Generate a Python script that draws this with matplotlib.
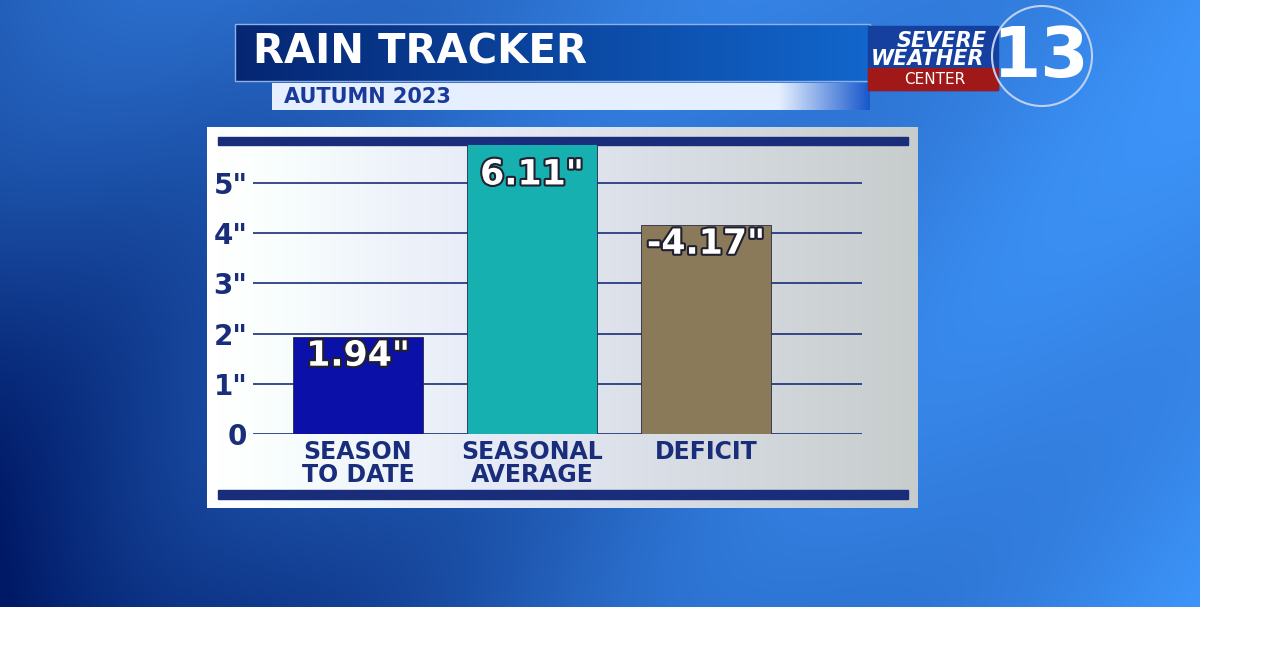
import numpy as np
import matplotlib.pyplot as plt
import matplotlib.patheffects as pe
from matplotlib.patches import Rectangle

categories = ["SEASON\nTO DATE", "SEASONAL\nAVERAGE", "DEFICIT"]
values = [1.94, 6.11, 4.17]
value_labels = ['1.94"', '6.11"', '-4.17"']
ytick_vals = [0, 1, 2, 3, 4, 5]
ytick_labels = ["0", '1"', '2"', '3"', '4"', '5"']
title = "RAIN TRACKER"
subtitle = "AUTUMN 2023"

W, H = 1280, 672
fig = plt.figure(figsize=(12.8, 6.72), dpi=100)
fig.patch.set_facecolor("white")

# background in pixel coordinates
bg = fig.add_axes([0, 0, 1, 1])
bg.set_xlim(0, W)
bg.set_ylim(H, 0)
bg.axis("off")
yy, xx = np.mgrid[0:607, 0:1200]
g = np.clip(0.55 + 0.35 * (xx / 1200) + 0.06 * np.sin((xx + yy) / 90.0) - 0.6 * (yy / 607) * (1 - xx / 1200) ** 2, 0, 1)
img = np.zeros((607, 1200, 3))
img[..., 0] = 0.0 + 0.25 * g
img[..., 1] = 0.1 + 0.5 * g
img[..., 2] = 0.4 + 0.6 * g
bg.imshow(img.clip(0, 1), extent=[0, 1200, 607, 0], zorder=0)

# title bars
tg = np.linspace(0, 1, 200).reshape(1, -1)
bg.imshow(np.dstack([0.02 + 0.05 * tg, 0.15 + 0.25 * tg, 0.45 + 0.35 * tg]), extent=[235, 870, 81, 24], aspect="auto", zorder=2)
bg.add_patch(Rectangle((235, 24), 635, 57, fill=False, ec="#8fb0e8", lw=1, zorder=3))
bg.text(253, 52, title, color="white", fontsize=29, fontweight="bold", va="center", zorder=4)
sg = np.clip(1 - (np.linspace(0, 1, 200) - 0.85) / 0.15, 0, 1).reshape(1, -1)
bg.imshow(np.dstack([0.9 * sg + 0.1 * (1 - sg), 0.94 * sg + 0.35 * (1 - sg), 1 * sg + 0.8 * (1 - sg)]), extent=[272, 870, 110, 83], aspect="auto", zorder=2)
bg.text(284, 97, subtitle, color="#1a3a9a", fontsize=15, fontweight="bold", va="center", zorder=4)

# logo
bg.add_patch(Rectangle((868, 26), 130, 64, color="#1540a0", zorder=3))
bg.add_patch(Rectangle((868, 68), 130, 22, color="#a01818", zorder=4))
bg.text(942, 41, "SEVERE", color="white", fontsize=15, fontweight="bold", style="italic", ha="center", va="center", zorder=5)
bg.text(928, 59, "WEATHER", color="white", fontsize=15, fontweight="bold", style="italic", ha="center", va="center", zorder=5)
bg.text(935, 80, "CENTER", color="white", fontsize=11, ha="center", va="center", zorder=5)
bg.add_patch(plt.Circle((1042, 56), 50, fill=False, ec="#c0d0f0", lw=1.5, zorder=4))
bg.text(1040, 58, "13", color="white", fontsize=50, fontweight="bold", ha="center", va="center", zorder=5)

# panel
pg = np.linspace(0, 1, 300).reshape(1, -1)
pc = np.interp(pg, [0, 0.4, 1], [1.0, 0.9, 0.78])
pb = np.interp(pg, [0, 0.4, 1], [1.0, 0.97, 0.8])
bg.imshow(np.dstack([pc, pc + 0.02, pb]).clip(0, 1), extent=[207, 918, 508, 127], aspect="auto", zorder=2)
bg.add_patch(Rectangle((218, 137), 690, 8, color="#1a2d7a", zorder=3))
bg.add_patch(Rectangle((218, 490), 690, 9, color="#1a2d7a", zorder=3))

# chart axes
ax = fig.add_axes([253 / W, 238 / H, 609 / W, 289 / H])
ax.patch.set_alpha(0)
ax.set_ylim(0, 289 / 50.2)
ax.set_xlim(-0.603, 2.897)
for y in ytick_vals:
    ax.axhline(y, color="#1a2d7a", lw=1.2, zorder=1)
bar_colors = ["#0a10a8", "#16b0b0", "#8a7a5a"]
x = np.arange(len(categories))
ax.bar(x, values, width=0.747, color=bar_colors, edgecolor="#2a2a40", lw=0.6, zorder=2)
for xi, v, lab in zip(x, values, value_labels):
    top = min(v, 5.55)
    ax.text(xi, top - 0.38, lab, color="white", fontsize=25, fontweight="bold", ha="center", va="center", zorder=3,
            path_effects=[pe.withStroke(linewidth=3, foreground="#202030")])
ax.set_yticks(ytick_vals)
ax.set_yticklabels(ytick_labels)
ax.set_xticks(x)
ax.set_xticklabels(categories, linespacing=0.95)
ax.tick_params(length=0, pad=4)
for t in ax.get_yticklabels():
    t.set_fontsize(20); t.set_fontweight("bold"); t.set_color("#1a2d7a")
for t in ax.get_xticklabels():
    t.set_fontsize(17); t.set_fontweight("bold"); t.set_color("#1a2d7a")
for s in ax.spines.values():
    s.set_visible(False)

fig.savefig("out.png", dpi=100)
